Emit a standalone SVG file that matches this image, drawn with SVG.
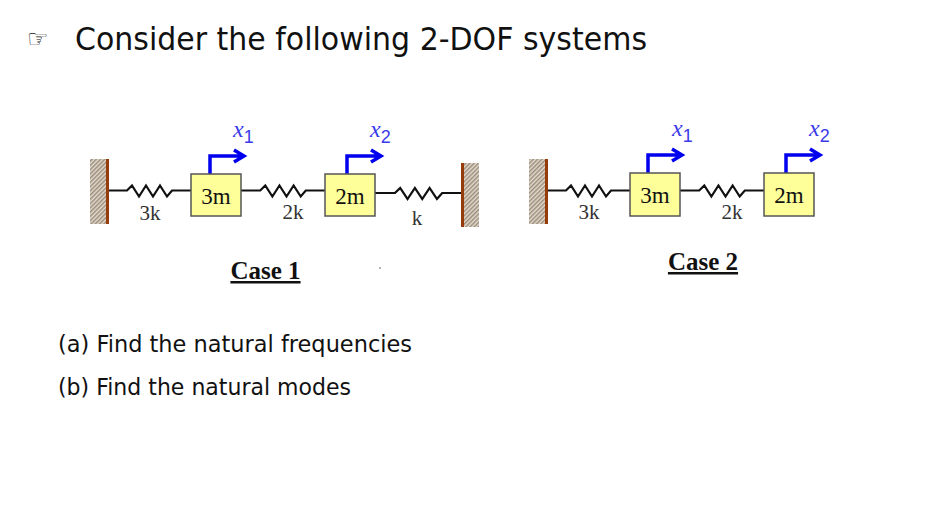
<svg xmlns="http://www.w3.org/2000/svg" width="926" height="515" viewBox="0 0 926 515">
<style>
.h{font-family:"Liberation Serif","Times New Roman",serif;fill:#222}
.m{font-size:23px;text-anchor:middle;fill:#111}
.k{font-size:21px;text-anchor:middle;fill:#333}
.x{font-size:24px;font-style:italic;fill:#3a3ae8}
.s{font-size:18px;font-style:normal;font-family:"Liberation Sans",sans-serif;fill:#3a3ae8}
.c{font-size:25px;font-weight:bold;text-anchor:middle;text-decoration:underline;fill:#111}
.t{font-family:"DejaVu Sans",sans-serif;fill:#111}
.mass{fill:#ffff99;stroke:#555;stroke-width:1.5}
.sp{fill:none;stroke:#111;stroke-width:2.2;stroke-linejoin:miter}
.ar{fill:none;stroke:#0000ee;stroke-width:3.5}
.wall{fill:#963c0a}
</style>
<defs>
<pattern id="hatch" width="3" height="3" patternUnits="userSpaceOnUse" patternTransform="rotate(-45)">
<rect width="3" height="3" fill="#e2dcd2"/><rect width="3" height="1.5" fill="#9c8c78"/>
</pattern>
<path id="spring" d="M0 0H19L24 -5L31 6L38 -5L45 6L52 -5L59 6L64 0H83"/>
<path id="arrow" d="M0 0V-18H33M24 -24L34 -18L24 -12"/>
</defs>
<g id="heading">
<text class="t" x="27" y="47" font-size="24" fill="#444">☞</text>
<text class="t" x="75" y="50" font-size="32" textLength="572" lengthAdjust="spacingAndGlyphs">Consider the following 2-DOF systems</text>
</g>
<g id="connectors">
<use href="#spring" class="sp" x="108" y="190.5"/>
<use href="#spring" class="sp" transform="translate(241 190.5) scale(1.012 1)"/>
<use href="#spring" class="sp" transform="translate(375 193) scale(1.05 1)"/>
<use href="#spring" class="sp" transform="translate(547 190.5) scale(1.0 1)"/>
<use href="#spring" class="sp" transform="translate(680 190.5) scale(1.012 1)"/>
<use href="#arrow" class="ar" x="210" y="174"/>
<use href="#arrow" class="ar" x="347" y="174"/>
<use href="#arrow" class="ar" x="648" y="173"/>
<use href="#arrow" class="ar" x="786" y="173"/>
</g>
<g id="case1-wall-left"><rect x="90" y="159" width="16" height="65" fill="url(#hatch)"/><rect class="wall" x="106" y="159" width="3" height="65"/></g>
<g id="case1-wall-right"><rect class="wall" x="461" y="163" width="3" height="64"/><rect x="464" y="163" width="15" height="64" fill="url(#hatch)"/></g>
<g id="case2-wall"><rect x="529" y="159" width="16" height="65" fill="url(#hatch)"/><rect class="wall" x="545" y="159" width="3" height="65"/></g>
<g id="case1-3m"><rect class="mass" x="191" y="174" width="50" height="42"/><text class="h m" x="216" y="204">3m</text></g>
<g id="case1-2m"><rect class="mass" x="325" y="174" width="50" height="42"/><text class="h m" x="350" y="204">2m</text></g>
<g id="case2-3m"><rect class="mass" x="630" y="173" width="50" height="43"/><text class="h m" x="655" y="203">3m</text></g>
<g id="case2-2m"><rect class="mass" x="764" y="173" width="50" height="43"/><text class="h m" x="789" y="203">2m</text></g>
<g id="labels">
<text class="h k" x="150" y="220">3k</text>
<text class="h k" x="293" y="219">2k</text>
<text class="h k" x="417" y="225">k</text>
<text class="h k" x="589" y="219">3k</text>
<text class="h k" x="732" y="219">2k</text>
<text class="h x" x="233" y="137">x<tspan class="s" dy="6">1</tspan></text>
<text class="h x" x="370" y="137">x<tspan class="s" dy="6">2</tspan></text>
<text class="h x" x="672" y="136">x<tspan class="s" dy="6">1</tspan></text>
<text class="h x" x="809" y="136">x<tspan class="s" dy="6">2</tspan></text>
<text class="h c" x="265.500" y="279">Case 1</text>
<text class="h c" x="703" y="270">Case 2</text>
</g>
<circle cx="380" cy="268" r="0.8" fill="#555"/>
<g id="questions">
<text class="t" x="58" y="352" font-size="23" textLength="354" lengthAdjust="spacingAndGlyphs">(a) Find the natural frequencies</text>
<text class="t" x="58" y="395" font-size="23" textLength="293" lengthAdjust="spacingAndGlyphs">(b) Find the natural modes</text>
</g>
</svg>
